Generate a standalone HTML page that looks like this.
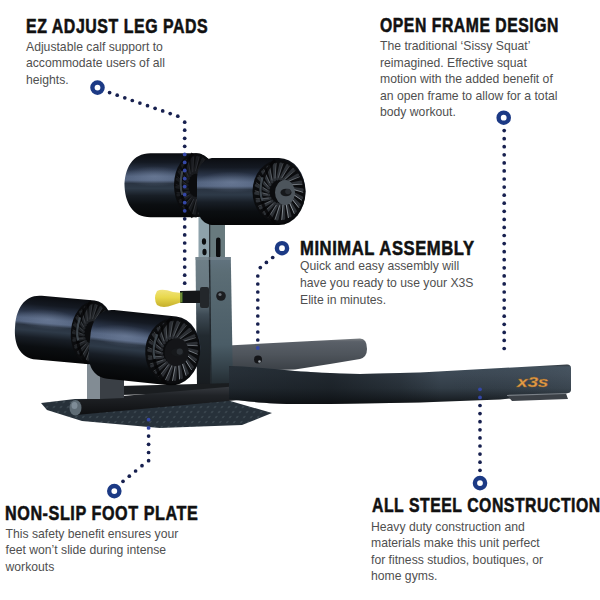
<!DOCTYPE html>
<html><head><meta charset="utf-8">
<style>
html,body{margin:0;padding:0;}
body{width:600px;height:600px;background:#fff;position:relative;overflow:hidden;font-family:"Liberation Sans",sans-serif;}
.h{position:absolute;font-weight:bold;font-size:20.5px;line-height:20px;color:#111;-webkit-text-stroke:0.55px #111;letter-spacing:0.7px;white-space:nowrap;transform-origin:0 0;}
.b{position:absolute;font-size:12.2px;line-height:16.25px;color:#4f4f4f;white-space:nowrap;}
svg{position:absolute;left:0;top:0;}
</style></head><body>
<svg id="m" width="600" height="600" viewBox="0 0 600 600"><defs>
<linearGradient id="padG" x1="0" y1="0" x2="0" y2="1">
 <stop offset="0" stop-color="#0b0d11"/>
 <stop offset="0.14" stop-color="#141922"/>
 <stop offset="0.26" stop-color="#2b364a"/>
 <stop offset="0.36" stop-color="#52627e"/>
 <stop offset="0.42" stop-color="#566682"/>
 <stop offset="0.47" stop-color="#2a3442"/>
 <stop offset="0.55" stop-color="#2e3a48"/>
 <stop offset="0.66" stop-color="#181e26"/>
 <stop offset="0.8" stop-color="#0b0e11"/>
 <stop offset="1" stop-color="#050607"/>
</linearGradient>
<radialGradient id="hlG">
 <stop offset="0" stop-color="#7a8aa6" stop-opacity="0.5"/>
 <stop offset="1" stop-color="#7a8aa6" stop-opacity="0"/>
</radialGradient>
<linearGradient id="barG" x1="0" y1="0" x2="0" y2="1">
 <stop offset="0" stop-color="#262c31"/>
 <stop offset="0.06" stop-color="#3f4d59"/>
 <stop offset="0.25" stop-color="#3d4955"/>
 <stop offset="0.6" stop-color="#323d47"/>
 <stop offset="0.85" stop-color="#1e252b"/>
 <stop offset="1" stop-color="#111417"/>
</linearGradient>
<linearGradient id="backG" x1="0" y1="0" x2="0" y2="1">
 <stop offset="0" stop-color="#7a7e82"/>
 <stop offset="0.1" stop-color="#5a6068"/>
 <stop offset="0.5" stop-color="#4e545b"/>
 <stop offset="1" stop-color="#3a3f45"/>
</linearGradient>
<linearGradient id="tubeG" x1="0" y1="0" x2="0" y2="1">
 <stop offset="0" stop-color="#3a3e44"/>
 <stop offset="0.35" stop-color="#202327"/>
 <stop offset="1" stop-color="#0e0f11"/>
</linearGradient>
<linearGradient id="sleeveG" x1="0" y1="0" x2="0" y2="1">
 <stop offset="0" stop-color="#66737b"/>
 <stop offset="0.35" stop-color="#505c64"/>
 <stop offset="1" stop-color="#30383e"/>
</linearGradient>
<linearGradient id="knobG" x1="0" y1="0" x2="0" y2="1">
 <stop offset="0" stop-color="#f1e47c"/>
 <stop offset="0.45" stop-color="#e8d84c"/>
 <stop offset="1" stop-color="#c4ae2c"/>
</linearGradient>
<pattern id="plateP" width="7" height="5" patternUnits="userSpaceOnUse" patternTransform="skewX(-30)">
 <rect width="7" height="5" fill="#27313a"/>
 <circle cx="2" cy="2" r="0.9" fill="#46545c"/>
</pattern>
<linearGradient id="barH" x1="229" y1="0" x2="571" y2="0" gradientUnits="userSpaceOnUse">
 <stop offset="0" stop-color="#0a0d10" stop-opacity="0.45"/>
 <stop offset="0.3" stop-color="#0a0d10" stop-opacity="0.55"/>
 <stop offset="0.5" stop-color="#0a0d10" stop-opacity="0.3"/>
 <stop offset="0.62" stop-color="#0a0d10" stop-opacity="0"/>
 <stop offset="1" stop-color="#9aa8b4" stop-opacity="0.08"/>
</linearGradient>
<linearGradient id="sleeveL" x1="0" y1="0" x2="0" y2="1">
 <stop offset="0" stop-color="#6f8088"/>
 <stop offset="0.33" stop-color="#65757e"/>
 <stop offset="0.44" stop-color="#3e4b55"/>
 <stop offset="0.6" stop-color="#222a30"/>
 <stop offset="1" stop-color="#171b1f"/>
</linearGradient>
<linearGradient id="sleeveR" x1="0" y1="0" x2="0" y2="1">
 <stop offset="0" stop-color="#627480"/>
 <stop offset="0.12" stop-color="#5b6d75"/>
 <stop offset="0.67" stop-color="#4a5c66"/>
 <stop offset="0.86" stop-color="#323f47"/>
 <stop offset="1" stop-color="#1f272c"/>
</linearGradient>
</defs>
<path d="M228 345.5 L360 338.5 Q367 338.5 367 349 Q367 357 360 359 L330 364 L295 369.5 L228 371 Z" fill="url(#backG)"/>
<path d="M198.5 207 L209.5 214 L209.5 258 L198.5 258 Z" fill="#8ea2ab"/>
<rect x="209.5" y="214" width="15.5" height="44" fill="#687a7e"/>
<rect x="209" y="214" width="1.3" height="44" fill="#2c3338"/>
<ellipse cx="204" cy="241.5" rx="2.1" ry="3.2" fill="#0c0d0f"/><ellipse cx="204.5" cy="252" rx="2.1" ry="3.2" fill="#0c0d0f"/>
<rect x="216" y="237.5" width="4.5" height="20" rx="2.2" fill="#0c0d0f"/>
<path d="M150.5 153.3 L196 153.3 A22 32.0 0 0 1 196 217.3 L150.5 217.3 C132.3 217.3 124.5 202.1 124.5 183.5 L124.5 187.1 C124.5 168.5 132.3 153.3 150.5 153.3 Z" fill="url(#padG)"/><ellipse cx="154.5" cy="176.3" rx="30.0" ry="10.2" fill="url(#hlG)"/><ellipse cx="196" cy="185.3" rx="22" ry="32" fill="#0b0c0e"/><path d="M204.8 185.3 L214.9 191.4 M204.4 188.9 L212.9 198.9 M203.4 192.2 L209.6 205.3 M201.8 195.0 L205.2 210.1 M199.7 196.9 L200.0 212.9 M197.3 198.0 L194.5 213.4 M194.7 198.0 L189.1 211.6 M192.3 196.9 L184.3 207.7 M190.2 195.0 L180.4 202.0 M188.6 192.2 L177.8 195.0 M187.6 188.9 L176.7 187.1 M187.2 185.3 L177.1 179.2 M187.6 181.7 L179.1 171.7 M188.6 178.4 L182.4 165.3 M190.2 175.6 L186.8 160.5 M192.3 173.7 L192.0 157.7 M194.7 172.6 L197.5 157.2 M197.3 172.6 L202.9 159.0 M199.7 173.7 L207.7 162.9 M201.8 175.6 L211.6 168.6 M203.4 178.4 L214.2 175.6 M204.4 181.7 L215.3 183.5" stroke="#2e3237" stroke-width="2.9" stroke-linecap="round" fill="none" opacity="0.42"/><g stroke="#8a9098" stroke-width="0.9" stroke-linecap="round" fill="none"><path d="M205.9 186.6 L214.9 194.1" opacity="0.37"/><path d="M205.2 190.6 L212.4 201.5" opacity="0.39"/><path d="M203.8 194.1 L208.6 207.5" opacity="0.39"/><path d="M201.8 197.0 L203.8 211.8" opacity="0.37"/><path d="M199.3 198.9 L198.3 213.9" opacity="0.33"/><path d="M196.5 199.7 L192.7 213.7" opacity="0.28"/><path d="M193.7 199.3 L187.3 211.2" opacity="0.22"/><path d="M191.1 197.8 L182.7 206.6" opacity="0.17"/><path d="M188.9 195.3 L179.1 200.3" opacity="0.17"/><path d="M187.2 192.0 L176.9 192.7" opacity="0.17"/><path d="M186.3 188.1 L176.2 184.6" opacity="0.17"/><path d="M186.1 184.0 L177.1 176.5" opacity="0.17"/><path d="M186.8 180.0 L179.6 169.1" opacity="0.17"/><path d="M188.2 176.5 L183.4 163.1" opacity="0.17"/><path d="M190.2 173.6 L188.2 158.8" opacity="0.17"/><path d="M192.7 171.7 L193.7 156.7" opacity="0.17"/><path d="M195.5 170.9 L199.3 156.9" opacity="0.17"/><path d="M198.3 171.3 L204.7 159.4" opacity="0.17"/><path d="M200.9 172.8 L209.3 164.0" opacity="0.17"/><path d="M203.1 175.3 L212.9 170.3" opacity="0.23"/><path d="M204.8 178.6 L215.1 177.9" opacity="0.29"/><path d="M205.7 182.5 L215.8 186.0" opacity="0.34"/></g><path d="M192.7 153.3 Q168.5 185.3 192.7 217.3" stroke="#050506" stroke-width="3" fill="none" opacity="0.8"/><path d="M182.4 170.9 Q178.8 185.3 182.4 194.9" stroke="#7d8d9c" stroke-width="2.2" fill="none" opacity="0.45"/>
<path d="M214 158 L279 158 A26.5 33.5 0 0 1 279 225 L214 225 C202.1 225 197 215.1 197 202.9 L197 180.1 C197 167.9 202.1 158 214 158 Z" fill="url(#padG)"/><ellipse cx="231.4" cy="182.1" rx="34.4" ry="10.7" fill="url(#hlG)"/><ellipse cx="279" cy="191.5" rx="26.5" ry="31.5" fill="#0b0c0e"/><path d="M289.6 191.5 L301.8 197.5 M289.2 195.0 L299.4 204.9 M287.9 198.3 L295.4 211.2 M285.9 201.0 L290.1 215.9 M283.4 203.0 L283.8 218.6 M280.5 204.0 L277.2 219.1 M277.5 204.0 L270.7 217.4 M274.6 203.0 L264.9 213.6 M272.1 201.0 L260.3 208.0 M270.1 198.3 L257.1 201.0 M268.8 195.0 L255.7 193.3 M268.4 191.5 L256.2 185.5 M268.8 188.0 L258.6 178.1 M270.1 184.7 L262.6 171.8 M272.1 182.0 L267.9 167.1 M274.6 180.0 L274.2 164.4 M277.5 179.0 L280.8 163.9 M280.5 179.0 L287.3 165.6 M283.4 180.0 L293.1 169.4 M285.9 182.0 L297.7 175.0 M287.9 184.7 L300.9 182.0 M289.2 188.0 L302.3 189.7" stroke="#2e3237" stroke-width="2.9" stroke-linecap="round" fill="none" opacity="0.98"/><g stroke="#aab2ba" stroke-width="0.9" stroke-linecap="round" fill="none"><path d="M290.9 192.8 L301.7 200.1" opacity="0.87"/><path d="M290.1 196.7 L298.7 207.4" opacity="0.91"/><path d="M288.4 200.2 L294.2 213.4" opacity="0.90"/><path d="M286.0 203.0 L288.4 217.6" opacity="0.86"/><path d="M283.0 204.9 L281.8 219.7" opacity="0.77"/><path d="M279.6 205.7 L275.0 219.5" opacity="0.66"/><path d="M276.2 205.3 L268.6 217.0" opacity="0.52"/><path d="M273.1 203.8 L262.9 212.5" opacity="0.39"/><path d="M270.4 201.3 L258.6 206.2" opacity="0.39"/><path d="M268.4 198.1 L256.0 198.8" opacity="0.39"/><path d="M267.3 194.3 L255.2 190.8" opacity="0.39"/><path d="M267.1 190.2 L256.3 182.9" opacity="0.39"/><path d="M267.9 186.3 L259.3 175.6" opacity="0.39"/><path d="M269.6 182.8 L263.8 169.6" opacity="0.39"/><path d="M272.0 180.0 L269.6 165.4" opacity="0.39"/><path d="M275.0 178.1 L276.2 163.3" opacity="0.39"/><path d="M278.4 177.3 L283.0 163.5" opacity="0.39"/><path d="M281.8 177.7 L289.4 166.0" opacity="0.39"/><path d="M284.9 179.2 L295.1 170.5" opacity="0.40"/><path d="M287.6 181.7 L299.4 176.8" opacity="0.55"/><path d="M289.6 184.9 L302.0 184.2" opacity="0.68"/><path d="M290.7 188.7 L302.8 192.2" opacity="0.79"/></g><path d="M275.0 160.0 Q245.9 191.5 275.0 223.0" stroke="#050506" stroke-width="3" fill="none" opacity="0.8"/><path d="M262.6 177.3 Q258.3 191.5 262.6 200.9" stroke="#7d8d9c" stroke-width="2.2" fill="none" opacity="0.45"/><ellipse cx="285" cy="192.5" rx="10" ry="12.5" fill="#4d555c"/><ellipse cx="286" cy="192.5" rx="5.5" ry="3.8" fill="#16181b"/><circle cx="288" cy="191.5" r="2.8" fill="#2a2e33"/>
<path d="M195.5 257 L209.5 257 L211 388 L197 388 Z" fill="url(#sleeveL)"/>
<path d="M209.5 257 L230.8 257 L233 388 L211 388 Z" fill="url(#sleeveR)"/>
<path d="M209.5 257 L211 388" stroke="#20272c" stroke-width="1.4"/>
<rect x="195.5" y="257" width="35.3" height="3" fill="#7d8b94" opacity="0.55"/>
<path d="M41 403 L75 399 L220 398 L272 413 L242 425 L160 428 L82 421 L47 410 Z" fill="url(#plateP)"/>
<path d="M120 386 L235 383 L235 392 L120 395 Z" fill="#1a1d20"/>
<path d="M76 400 L250 385 L250 399 L76 415 Z" fill="url(#tubeG)"/>
<ellipse cx="75.5" cy="407.8" rx="6" ry="7.8" fill="#5f6c75"/><ellipse cx="74.5" cy="405.5" rx="3" ry="3.5" fill="#8b9aa5" opacity="0.7"/>
<path d="M229 366 C250 366.5 272 369 295 371 C310 372 330 373.5 360 374 L420 372.5 L567 364.5 Q571 364.5 571 368 L571 390 Q571 393 566 393.5 L500 399.5 L420 402.5 L330 404 L300 404 C270 404 252 402 229 399 Z" fill="url(#barG)"/>
<path d="M229 366 C250 366.5 272 369 295 371 C310 372 330 373.5 360 374 L420 372.5 L567 364.5 Q571 364.5 571 368 L571 390 Q571 393 566 393.5 L500 399.5 L420 402.5 L330 404 L300 404 C270 404 252 402 229 399 Z" fill="url(#barH)"/>
<path d="M507 395.5 L566 393.5 L568 399 L512 401 Z" fill="#3c4147"/><path d="M507 395.5 L566 393.5" stroke="#7a8087" stroke-width="1.2"/>
<text x="517" y="387" font-family="Liberation Sans" font-weight="bold" font-style="italic" font-size="15" fill="#e39c48" stroke="#8a5a20" stroke-width="0.3" letter-spacing="-0.2" transform="translate(517 0) scale(1.28 1) translate(-517 0)">x3s</text>
<circle cx="258" cy="359.5" r="4" fill="#141518"/><circle cx="259.5" cy="361.5" r="1.3" fill="#9aa0a6"/>
<path d="M180 291 L203 290.5 L203 303 L180 303 Z" fill="#141619"/>
<path d="M182 293 L173 292 Q162 288 157 291 Q153 298 157 305 Q163 309 173 305 L182 302 Z" fill="url(#knobG)"/>
<rect x="180" y="292" width="3" height="10.5" fill="#3f6a2a" opacity="0.7"/>
<rect x="200" y="287" width="9" height="21" rx="2" fill="#23272b"/>
<circle cx="221" cy="296" r="4.8" fill="#1b1d20"/><circle cx="220" cy="294.5" r="1.6" fill="#6a7077"/>
<path d="M87 352 L100 362 L100 399 L87 399 Z" fill="#828c94"/>
<path d="M100 376 L124 376 L124 398 L100 399 Z" fill="#3a3f45"/>
<g transform="rotate(5 53.5 329.0)"><path d="M39 297 L92 297 A21 32.0 0 0 1 92 361 L39 361 C22.2 361 15 347.0 15 329.8 L15 328.2 C15 311.0 22.2 297 39 297 Z" fill="url(#padG)"/><ellipse cx="47.3" cy="320.0" rx="32.3" ry="10.2" fill="url(#hlG)"/><ellipse cx="92" cy="329.0" rx="21" ry="31" fill="#0b0c0e"/><path d="M100.4 329.0 L110.0 335.0 M100.1 332.5 L108.2 342.2 M99.1 335.7 L105.0 348.4 M97.5 338.4 L100.8 353.0 M95.5 340.3 L95.8 355.7 M93.2 341.3 L90.6 356.2 M90.8 341.3 L85.4 354.5 M88.5 340.3 L80.8 350.7 M86.5 338.4 L77.1 345.2 M84.9 335.7 L74.6 338.4 M83.9 332.5 L73.6 330.8 M83.6 329.0 L74.0 323.0 M83.9 325.5 L75.8 315.8 M84.9 322.3 L79.0 309.6 M86.5 319.6 L83.2 305.0 M88.5 317.7 L88.2 302.3 M90.8 316.7 L93.4 301.8 M93.2 316.7 L98.6 303.5 M95.5 317.7 L103.2 307.3 M97.5 319.6 L106.9 312.8 M99.1 322.3 L109.4 319.6 M100.1 325.5 L110.4 327.2" stroke="#2e3237" stroke-width="2.9" stroke-linecap="round" fill="none" opacity="0.63"/><g stroke="#8a9098" stroke-width="0.9" stroke-linecap="round" fill="none"><path d="M101.4 330.3 L110.0 337.5" opacity="0.56"/><path d="M100.8 334.1 L107.6 344.7" opacity="0.58"/><path d="M99.5 337.6 L104.0 350.5" opacity="0.58"/><path d="M97.5 340.3 L99.4 354.7" opacity="0.55"/><path d="M95.1 342.2 L94.2 356.7" opacity="0.50"/><path d="M92.5 342.9 L88.9 356.5" opacity="0.42"/><path d="M89.8 342.6 L83.7 354.1" opacity="0.33"/><path d="M87.3 341.1 L79.3 349.6" opacity="0.25"/><path d="M85.2 338.7 L75.9 343.5" opacity="0.25"/><path d="M83.6 335.5 L73.7 336.2" opacity="0.25"/><path d="M82.7 331.7 L73.1 328.3" opacity="0.25"/><path d="M82.6 327.7 L74.0 320.5" opacity="0.25"/><path d="M83.2 323.9 L76.4 313.3" opacity="0.25"/><path d="M84.5 320.4 L80.0 307.5" opacity="0.25"/><path d="M86.5 317.7 L84.6 303.3" opacity="0.25"/><path d="M88.9 315.8 L89.8 301.3" opacity="0.25"/><path d="M91.5 315.1 L95.1 301.5" opacity="0.25"/><path d="M94.2 315.4 L100.3 303.9" opacity="0.25"/><path d="M96.7 316.9 L104.7 308.4" opacity="0.26"/><path d="M98.8 319.3 L108.1 314.5" opacity="0.35"/><path d="M100.4 322.5 L110.3 321.8" opacity="0.44"/><path d="M101.3 326.3 L110.9 329.7" opacity="0.51"/></g><path d="M88.8 298.0 Q65.8 329.0 88.8 360.0" stroke="#050506" stroke-width="3" fill="none" opacity="0.8"/><path d="M79.0 315.1 Q75.6 329.0 79.0 338.3" stroke="#7d8d9c" stroke-width="2.2" fill="none" opacity="0.45"/></g>
<g transform="rotate(6 131.2 346.5)"><path d="M110.5 312 L173 312 A27.5 34.5 0 0 1 173 381 L110.5 381 C95.8 381 89.5 368.7 89.5 353.7 L89.5 339.3 C89.5 324.3 95.8 312 110.5 312 Z" fill="url(#padG)"/><ellipse cx="124.6" cy="336.8" rx="35.1" ry="11.0" fill="url(#hlG)"/><ellipse cx="173" cy="346.5" rx="27.5" ry="33" fill="#0b0c0e"/><path d="M184.0 346.5 L196.6 352.8 M183.6 350.2 L194.2 360.6 M182.3 353.6 L190.0 367.2 M180.2 356.5 L184.5 372.1 M177.6 358.5 L178.0 374.9 M174.6 359.6 L171.1 375.5 M171.4 359.6 L164.4 373.6 M168.4 358.5 L158.4 369.6 M165.8 356.5 L153.5 363.8 M163.7 353.6 L150.3 356.5 M162.4 350.2 L148.9 348.4 M162.0 346.5 L149.4 340.2 M162.4 342.8 L151.8 332.4 M163.7 339.4 L156.0 325.8 M165.8 336.5 L161.5 320.9 M168.4 334.5 L168.0 318.1 M171.4 333.4 L174.9 317.5 M174.6 333.4 L181.6 319.4 M177.6 334.5 L187.6 323.4 M180.2 336.5 L192.5 329.2 M182.3 339.4 L195.7 336.5 M183.6 342.8 L197.1 344.6" stroke="#2e3237" stroke-width="2.9" stroke-linecap="round" fill="none" opacity="0.91"/><g stroke="#a0a8b0" stroke-width="0.9" stroke-linecap="round" fill="none"><path d="M185.3 347.8 L196.6 355.6" opacity="0.81"/><path d="M184.5 351.9 L193.5 363.2" opacity="0.84"/><path d="M182.8 355.6 L188.7 369.4" opacity="0.84"/><path d="M180.2 358.6 L182.7 373.8" opacity="0.80"/><path d="M177.1 360.5 L175.9 376.0" opacity="0.72"/><path d="M173.7 361.3 L168.9 375.8" opacity="0.61"/><path d="M170.1 360.9 L162.2 373.2" opacity="0.48"/><path d="M166.9 359.4 L156.3 368.5" opacity="0.36"/><path d="M164.1 356.8 L151.9 361.9" opacity="0.36"/><path d="M162.0 353.4 L149.1 354.2" opacity="0.36"/><path d="M160.9 349.4 L148.3 345.8" opacity="0.36"/><path d="M160.7 345.2 L149.4 337.4" opacity="0.36"/><path d="M161.5 341.1 L152.5 329.8" opacity="0.36"/><path d="M163.2 337.4 L157.3 323.6" opacity="0.36"/><path d="M165.8 334.4 L163.3 319.2" opacity="0.36"/><path d="M168.9 332.5 L170.1 317.0" opacity="0.36"/><path d="M172.3 331.7 L177.1 317.2" opacity="0.36"/><path d="M175.9 332.1 L183.8 319.8" opacity="0.36"/><path d="M179.1 333.6 L189.7 324.5" opacity="0.37"/><path d="M181.9 336.2 L194.1 331.1" opacity="0.51"/><path d="M184.0 339.6 L196.9 338.8" opacity="0.63"/><path d="M185.1 343.6 L197.7 347.2" opacity="0.73"/></g><path d="M168.9 313.5 Q138.6 346.5 168.9 379.5" stroke="#050506" stroke-width="3" fill="none" opacity="0.8"/><path d="M155.9 331.6 Q151.6 346.5 155.9 356.4" stroke="#7d8d9c" stroke-width="2.2" fill="none" opacity="0.45"/><ellipse cx="177" cy="347.5" rx="12" ry="14" fill="#141518"/><ellipse cx="178" cy="347.5" rx="6.6" ry="4.2" fill="#16181b"/><circle cx="180" cy="346.5" r="3.1" fill="#2a2e33"/></g></svg>

<div class="h" id="h1" style="left:26.29px;top:15.95px;transform:scaleX(0.7766)">EZ ADJUST LEG PADS</div>
<div class="b" id="b1" style="left:26px;top:38.9px;line-height:16.5px">Adjustable calf support to<br>accommodate users of all<br>heights.</div>

<div class="h" id="h2" style="left:380.26px;top:15.15px;transform:scaleX(0.7686)">OPEN FRAME DESIGN</div>
<div class="b" id="b2" style="left:380px;top:38.4px;line-height:16.45px">The traditional ‘Sissy Squat’<br>reimagined. Effective squat<br>motion with the added benefit of<br>an open frame to allow for a total<br>body workout.</div>

<div class="h" id="h3" style="left:300.26px;top:237.50px;transform:scaleX(0.8106)">MINIMAL ASSEMBLY</div>
<div class="b" id="b3" style="left:300px;top:258.45px;line-height:16.6px">Quick and easy assembly will<br>have you ready to use your X3S<br>Elite in minutes.</div>

<div class="h" id="h4" style="left:5.37px;top:502.70px;transform:scaleX(0.7894)">NON-SLIP FOOT PLATE</div>
<div class="b" id="b4" style="left:5.5px;top:526px;line-height:16.35px">This safety benefit ensures your<br>feet won’t slide during intense<br>workouts</div>

<div class="h" id="h5" style="left:371.62px;top:495.40px;transform:scaleX(0.7701)">ALL STEEL CONSTRUCTION</div>
<div class="b" id="b5" style="left:371px;top:518.6px;line-height:16.5px">Heavy duty construction and<br>materials make this unit perfect<br>for fitness studios, boutiques, or<br>home gyms.</div>

<svg id="d" width="600" height="600" viewBox="0 0 600 600"><g fill="#17204f"><circle cx="109.6" cy="92.6" r="1.85"/><circle cx="117.2" cy="95.2" r="1.85"/><circle cx="124.8" cy="97.8" r="1.85"/><circle cx="132.3" cy="100.5" r="1.85"/><circle cx="139.9" cy="103.1" r="1.85"/><circle cx="147.5" cy="105.7" r="1.85"/><circle cx="155.1" cy="108.3" r="1.85"/><circle cx="162.7" cy="110.9" r="1.85"/><circle cx="170.2" cy="113.6" r="1.85"/><circle cx="177.8" cy="116.2" r="1.85"/><circle cx="184.7" cy="122.2" r="1.85"/><circle cx="184.7" cy="130.2" r="1.85"/><circle cx="184.7" cy="138.3" r="1.85"/><circle cx="184.7" cy="146.3" r="1.85"/><circle cx="184.7" cy="218.8" r="1.85"/><circle cx="184.7" cy="226.9" r="1.85"/><circle cx="184.7" cy="234.9" r="1.85"/><circle cx="184.7" cy="243.0" r="1.85"/><circle cx="184.7" cy="251.0" r="1.85"/><circle cx="184.7" cy="259.1" r="1.85"/><circle cx="184.7" cy="267.1" r="1.85"/><circle cx="184.7" cy="275.2" r="1.85"/><circle cx="184.7" cy="283.2" r="1.85"/><circle cx="504.2" cy="130.6" r="1.85"/><circle cx="504.2" cy="138.7" r="1.85"/><circle cx="504.2" cy="146.7" r="1.85"/><circle cx="504.2" cy="154.8" r="1.85"/><circle cx="504.2" cy="162.9" r="1.85"/><circle cx="504.2" cy="170.9" r="1.85"/><circle cx="504.2" cy="179.0" r="1.85"/><circle cx="504.2" cy="187.1" r="1.85"/><circle cx="504.2" cy="195.2" r="1.85"/><circle cx="504.2" cy="203.2" r="1.85"/><circle cx="504.2" cy="211.3" r="1.85"/><circle cx="504.2" cy="219.4" r="1.85"/><circle cx="504.2" cy="227.4" r="1.85"/><circle cx="504.2" cy="235.5" r="1.85"/><circle cx="504.2" cy="243.6" r="1.85"/><circle cx="504.2" cy="251.7" r="1.85"/><circle cx="504.2" cy="259.7" r="1.85"/><circle cx="504.2" cy="267.8" r="1.85"/><circle cx="504.2" cy="275.9" r="1.85"/><circle cx="504.2" cy="283.9" r="1.85"/><circle cx="504.2" cy="292.0" r="1.85"/><circle cx="504.2" cy="300.1" r="1.85"/><circle cx="504.2" cy="308.1" r="1.85"/><circle cx="504.2" cy="316.2" r="1.85"/><circle cx="504.2" cy="324.3" r="1.85"/><circle cx="504.2" cy="332.4" r="1.85"/><circle cx="504.2" cy="340.4" r="1.85"/><circle cx="504.2" cy="348.5" r="1.85"/><circle cx="272.7" cy="257.5" r="1.85"/><circle cx="266.4" cy="262.4" r="1.85"/><circle cx="260.3" cy="267.6" r="1.85"/><circle cx="257.8" cy="276.0" r="1.85"/><circle cx="257.8" cy="284.0" r="1.85"/><circle cx="257.8" cy="292.0" r="1.85"/><circle cx="257.8" cy="300.0" r="1.85"/><circle cx="257.8" cy="308.0" r="1.85"/><circle cx="257.8" cy="316.0" r="1.85"/><circle cx="257.8" cy="324.0" r="1.85"/><circle cx="257.8" cy="332.0" r="1.85"/><circle cx="257.8" cy="340.0" r="1.85"/><circle cx="123.0" cy="481.3" r="1.85"/><circle cx="129.3" cy="476.2" r="1.85"/><circle cx="135.6" cy="471.0" r="1.85"/><circle cx="142.0" cy="465.7" r="1.85"/><circle cx="148.6" cy="460.7" r="1.85"/><circle cx="148.6" cy="452.5" r="1.85"/><circle cx="148.6" cy="444.3" r="1.85"/><circle cx="148.6" cy="436.1" r="1.85"/><circle cx="480.0" cy="470.3" r="1.85"/><circle cx="480.0" cy="462.2" r="1.85"/><circle cx="480.0" cy="454.1" r="1.85"/><circle cx="480.0" cy="446.0" r="1.85"/><circle cx="480.0" cy="437.9" r="1.85"/><circle cx="480.0" cy="429.8" r="1.85"/><circle cx="480.0" cy="421.7" r="1.85"/><circle cx="480.0" cy="413.6" r="1.85"/><circle cx="480.0" cy="405.5" r="1.85"/></g><g fill="#3447a6"><circle cx="184.7" cy="154.4" r="1.9"/><circle cx="184.7" cy="162.4" r="1.9"/><circle cx="184.7" cy="170.5" r="1.9"/><circle cx="184.7" cy="178.6" r="1.9"/><circle cx="184.7" cy="186.6" r="1.9"/><circle cx="184.7" cy="194.7" r="1.9"/><circle cx="184.7" cy="202.7" r="1.9"/><circle cx="184.7" cy="210.8" r="1.9"/><circle cx="257.8" cy="348.0" r="1.9"/><circle cx="148.6" cy="427.9" r="1.9"/><circle cx="148.6" cy="419.7" r="1.9"/><circle cx="480.0" cy="397.4" r="1.9"/><circle cx="480.0" cy="389.3" r="1.9"/></g><circle cx="97.5" cy="87.6" r="5.1" fill="none" stroke="#1c3a85" stroke-width="4.4"/><circle cx="503.7" cy="117.7" r="5.1" fill="none" stroke="#1c3a85" stroke-width="4.4"/><circle cx="282" cy="248.2" r="5.1" fill="none" stroke="#1c3a85" stroke-width="4.4"/><circle cx="114.3" cy="491.1" r="5.1" fill="none" stroke="#1c3a85" stroke-width="4.4"/><circle cx="480" cy="483.1" r="5.1" fill="none" stroke="#1c3a85" stroke-width="4.4"/></svg>
</body></html>
